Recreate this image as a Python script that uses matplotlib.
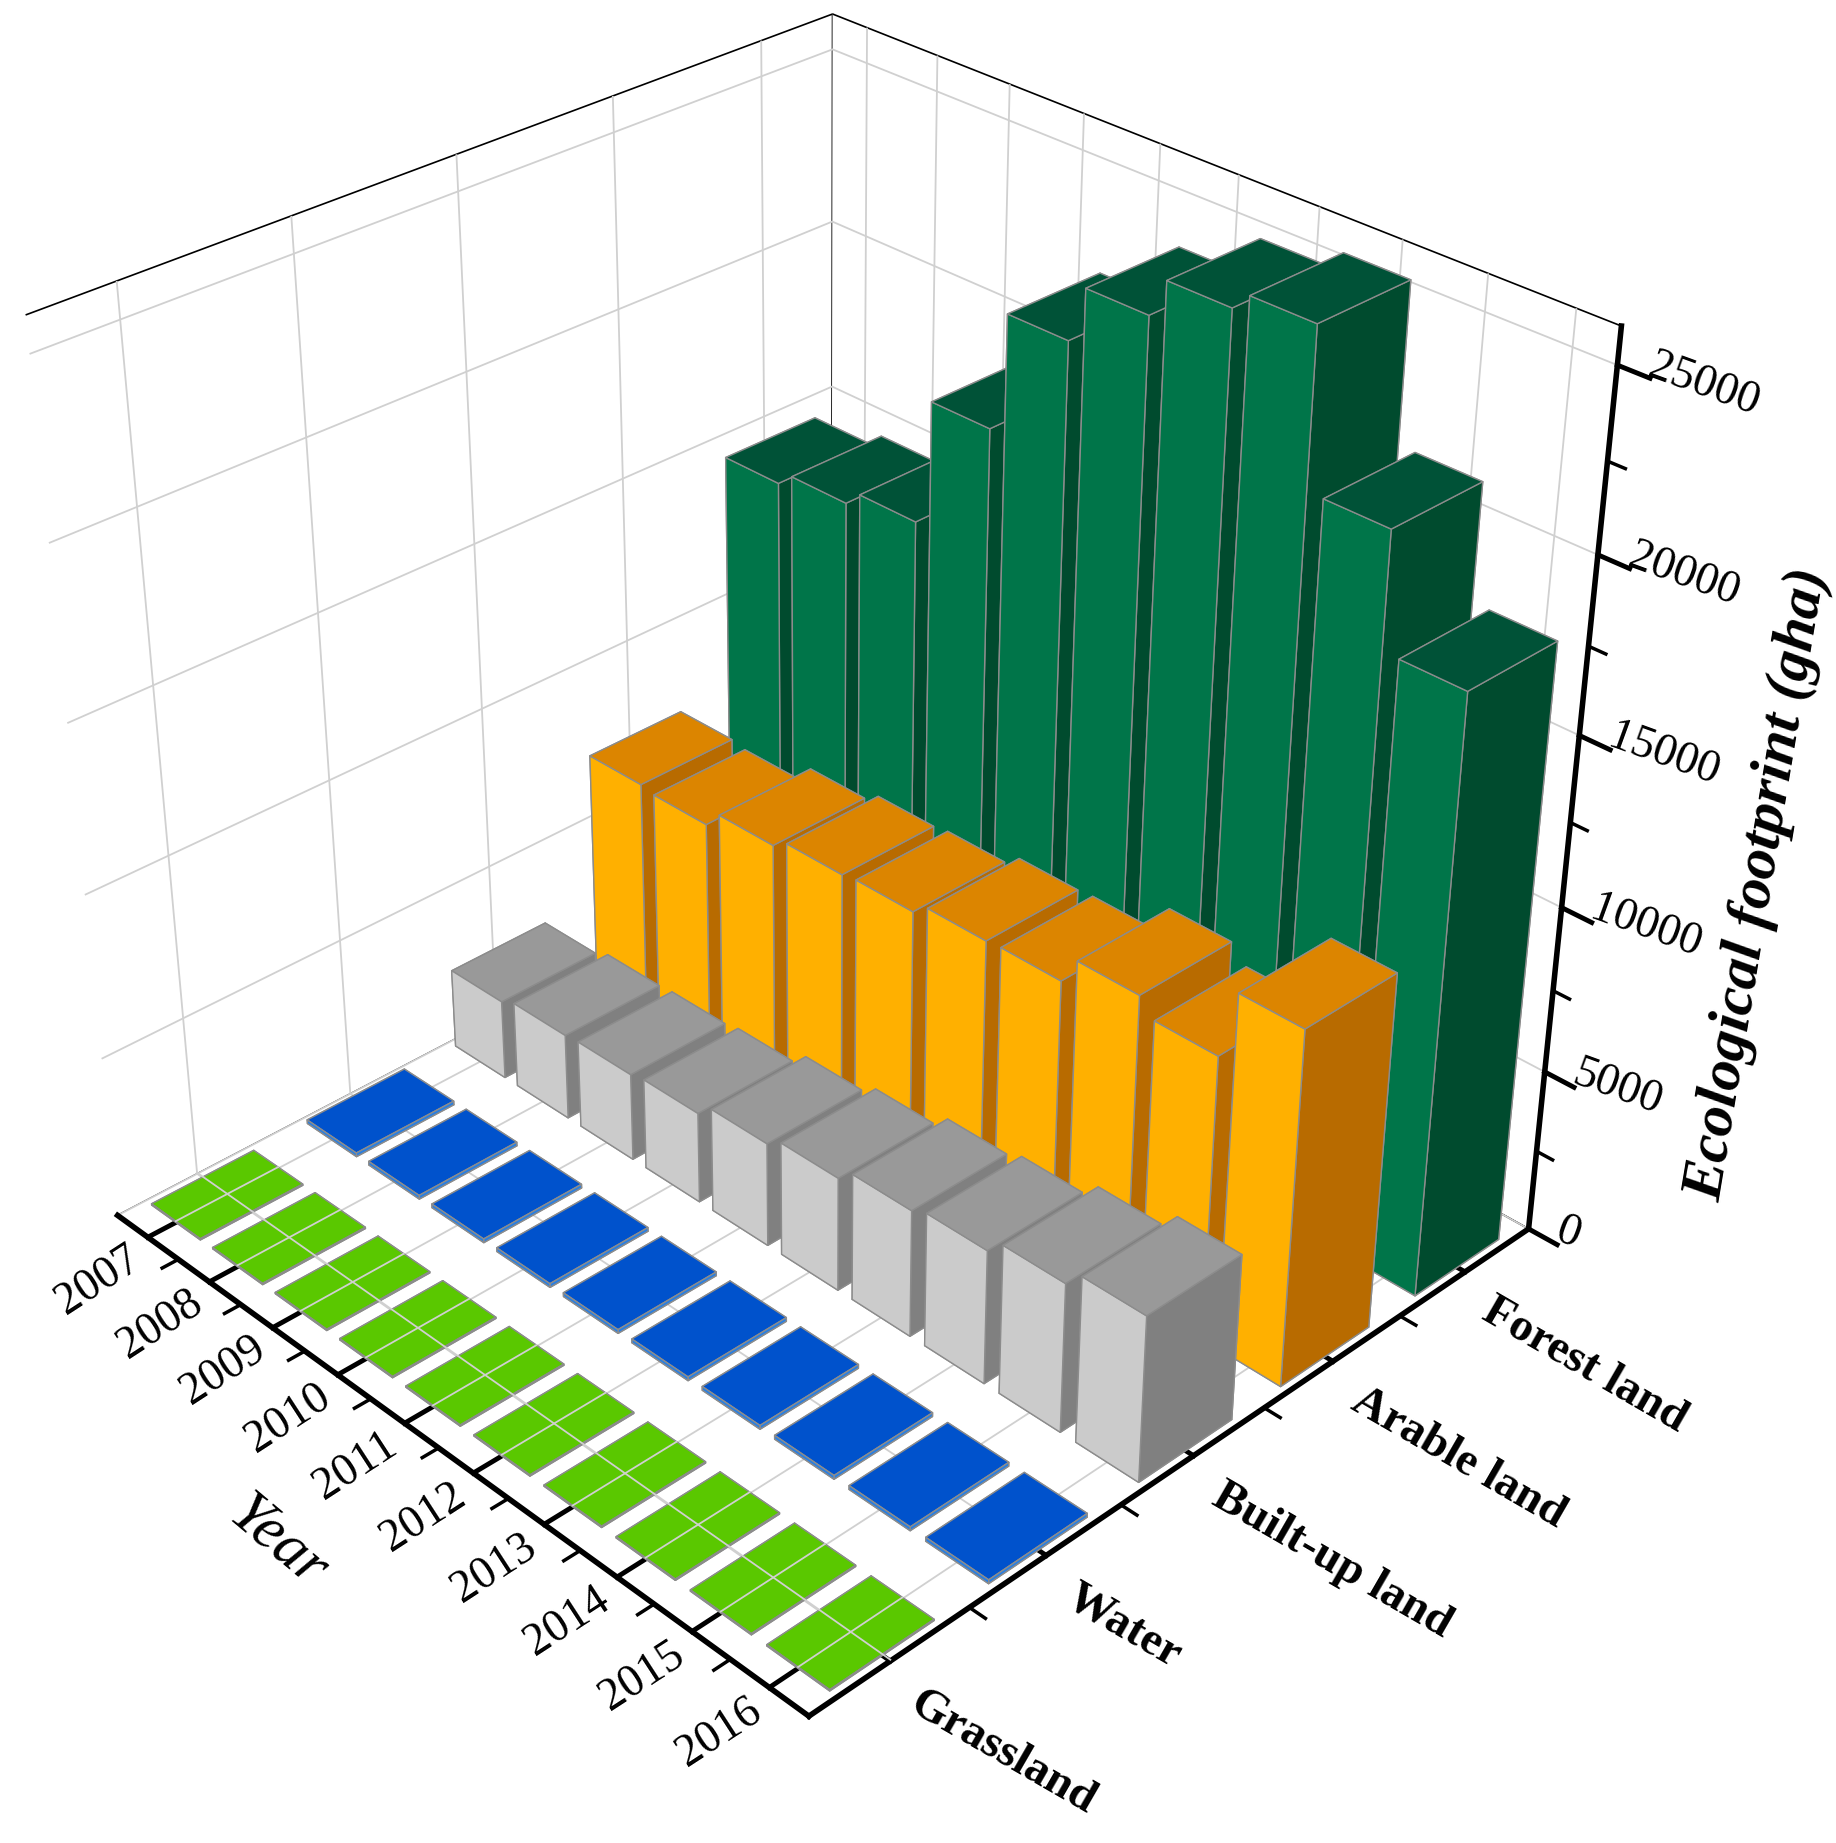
import numpy as np
import matplotlib
matplotlib.use("Agg")
import matplotlib.pyplot as plt

years = ["2007", "2008", "2009", "2010", "2011", "2012", "2013", "2014", "2015", "2016"]
categories = ["Grassland", "Water", "Built-up land", "Arable land", "Forest land"]

grassland = [40, 40, 40, 40, 40, 40, 40, 40, 40, 40]
water = [120, 120, 120, 120, 120, 120, 120, 120, 120, 120]
built_up = [2500, 2700, 2750, 2850, 3250, 3550, 3950, 4150, 4600, 5100]
arable = [7150, 7050, 7580, 7870, 7950, 8300, 8350, 9200, 8700, 10800]
forest = [14450, 14850, 15300, 19000, 22400, 24000, 25100, 25600, 21200, 17900]

z_ticks = [0, 5000, 10000, 15000, 20000, 25000]
z_minor = [2500, 7500, 12500, 17500, 22500]

# (top, front, side) colours per category
palette = [
    ("#5ac800", "#5ac800", "#4fb000"),
    ("#0052cc", "#2a7fe0", "#2a7fe0"),
    ("#999999", "#cbcbcb", "#808080"),
    ("#dc8500", "#ffb000", "#b86b00"),
    ("#005237", "#007549", "#004b2e"),
]
grid_color = "#d0d0d0"

plt.rcParams["font.family"] = ["Liberation Serif", "DejaVu Serif"]
plt.rcParams["grid.color"] = grid_color
plt.rcParams["grid.linewidth"] = 1.3

fig = plt.figure(figsize=(18.36, 18.43), dpi=100)
ax = fig.add_axes([-0.066, 0.053, 1.0, 1.0], projection="3d", computed_zorder=False)
ax.set_proj_type("persp", focal_length=0.46)
ax.view_init(elev=32, azim=-44.1)
ax.set_box_aspect((1, 1, 1.0), zoom=0.97)

series = [grassland, water, built_up, arable, forest]
bw, bd = 0.8, 0.65
order = 0
for j in range(len(categories) - 1, -1, -1):
    top, front, side = palette[j]
    for i in range(len(years)):
        cols = [top, top, front, front, side, side]
        ax.bar3d(i + 0.5 - bw / 2, j + 0.5 - bd / 2, 0, bw, bd, series[j][i],
                 color=cols, shade=False, edgecolor="#8c8c8c", linewidth=1.0,
                 zorder=10 + order)
        order += 1

nx, ny, zmax = len(years), len(categories), 26000
xt = np.arange(nx) + 0.5
yt = np.arange(ny) + 0.5

# floor grid visible across the flat grassland tiles
ax.plot([0, nx], [yt[0], yt[0]], [grassland[0], grassland[0]], color=grid_color, lw=1.3, zorder=200)
for i, xv in enumerate(xt):
    ax.plot([xv, xv], [yt[0] - bd / 2, yt[0] + bd / 2], [grassland[i], grassland[i]],
            color=grid_color, lw=1.3, zorder=200)

# minor ticks (half length of the major ones)
for k in range(1, nx):
    ax.plot([k, k], [0, -0.10], [0, 0], color="black", lw=2.5, zorder=3)
for k in range(1, ny):
    ax.plot([nx, nx + 0.20], [k, k], [0, 0], color="black", lw=2.5, zorder=3)
for zv in z_minor:
    ax.plot([nx, nx + 0.20], [ny, ny], [zv, zv], color="black", lw=2.5, zorder=3)

ax.set_xlim(0, nx)
ax.set_ylim(0, ny)
ax.set_zlim(0, zmax)

ax.set_xticks(xt)
ax.set_xticklabels(years, rotation=33, ha="right", va="center", rotation_mode="anchor", fontsize=33)
ax.set_yticks(yt)
ax.set_yticklabels(categories, rotation=-30, ha="left", va="center", rotation_mode="anchor",
                   fontsize=34, fontweight="bold")
ax.set_zticks(z_ticks)
ax.set_zticklabels([str(v) for v in z_ticks], rotation=-20, ha="left", va="center",
                   rotation_mode="anchor", fontsize=33)

ax.set_xlabel("")
ax.set_zlabel("")
fig.text(0.151, 0.163, "Year", fontsize=44, fontstyle="italic",
         rotation=-40, ha="center", va="center", rotation_mode="anchor")
fig.text(0.958, 0.520, "Ecological footprint (gha)", fontsize=43, fontstyle="italic",
         fontweight="bold", rotation=80.5, ha="center", va="center", rotation_mode="anchor")

for axis in (ax.xaxis, ax.yaxis, ax.zaxis):
    axis.set_pane_color((1, 1, 1, 1))
    axis.pane.set_edgecolor("black")
    axis.pane.set_linewidth(1.2)
    axis.line.set_linewidth(4)
    axis._axinfo["tick"]["inward_factor"] = 0.0
    axis._axinfo["tick"]["outward_factor"] = 0.45
    axis._axinfo["tick"]["linewidth"] = {True: 3.5, False: 2.5}
ax.zaxis._axinfo["tick"]["inward_factor"] = 0.45
ax.zaxis._axinfo["tick"]["outward_factor"] = 0.0

ax.tick_params(axis="x", pad=2)
ax.tick_params(axis="y", pad=12)
ax.tick_params(axis="z", pad=6)

fig.savefig("out.png", dpi=100)
